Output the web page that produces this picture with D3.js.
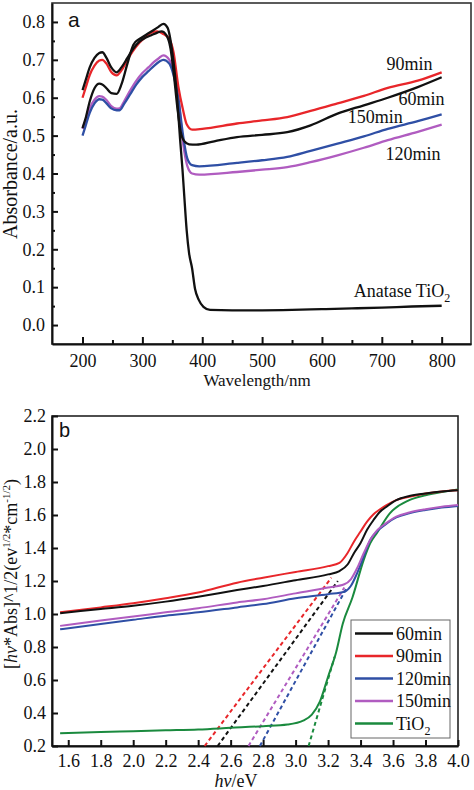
<!DOCTYPE html>
<html>
<head>
<meta charset="utf-8">
<script src="https://cdn.jsdelivr.net/npm/d3@7"></script>
<style>
    body { margin: 0; background: #fff; }
    svg text { font-family: "Liberation Serif", "Times New Roman", serif !important; fill: #111; }
    svg text.sans { font-family: "Liberation Sans", Arial, sans-serif !important; }
    .axis path, .axis line { stroke: #111; }
    .axis text { font-size: 18px; }
</style>
</head>
<body>
<svg id="chart" width="474" height="790"></svg>
<script>
// ---- panel a : absorbance vs wavelength ----
const wlTiO2  = [200,205,212,220,228,233,240,248,257,265,275,285,295,305,315,325,335,342,350,358,363,367,370,374,378,383,388,394,402,413,450,500,550,600,650,700,750,800];
const absTiO2 = [0.52,0.545,0.59,0.625,0.637,0.635,0.625,0.612,0.61,0.635,0.69,0.74,0.755,0.765,0.775,0.785,0.795,0.785,0.72,0.6,0.49,0.41,0.34,0.25,0.19,0.15,0.095,0.067,0.048,0.04,0.039,0.039,0.04,0.042,0.044,0.046,0.049,0.051];

const wl60  = [200,205,212,220,228,233,240,248,257,265,275,285,295,305,315,325,332,340,347,352,358,364,370,378,390,420,458,500,542,581,626,670,710,760,800];
const abs60 = [0.62,0.645,0.68,0.705,0.718,0.72,0.705,0.68,0.667,0.68,0.705,0.73,0.748,0.758,0.765,0.772,0.775,0.765,0.73,0.67,0.58,0.51,0.485,0.477,0.476,0.485,0.496,0.502,0.509,0.527,0.558,0.58,0.6,0.628,0.654];

const wl90  = [200,205,212,220,228,233,240,248,257,265,275,285,295,305,315,325,335,345,352,360,368,374,383,400,458,500,542,581,626,670,710,760,800];
const abs90 = [0.6,0.625,0.66,0.685,0.698,0.7,0.69,0.668,0.659,0.672,0.7,0.725,0.745,0.76,0.772,0.775,0.768,0.755,0.72,0.63,0.567,0.53,0.516,0.518,0.532,0.54,0.549,0.565,0.585,0.605,0.626,0.645,0.667];

const wlBP   = [200,205,212,220,228,233,240,248,257,262,270,280,290,300,310,320,328,335,345,352,360,368,375,383,395,458,500,542,581,626,670,710,760,800];
const absBlue   = [0.5,0.525,0.56,0.585,0.596,0.595,0.585,0.572,0.567,0.567,0.585,0.61,0.635,0.655,0.67,0.685,0.695,0.7,0.69,0.66,0.6,0.5,0.44,0.422,0.419,0.428,0.435,0.444,0.46,0.479,0.498,0.518,0.538,0.556];
const absPurple = [0.518,0.54,0.572,0.595,0.604,0.603,0.594,0.578,0.571,0.572,0.592,0.62,0.645,0.665,0.68,0.695,0.705,0.712,0.7,0.67,0.6,0.48,0.42,0.4,0.397,0.404,0.41,0.417,0.43,0.448,0.468,0.488,0.51,0.529];

const wlTicks  = [200,300,400,500,600,700,800];
const wlMinor  = [250,350,450,550,650,750];
const absTicks = [0,0.1,0.2,0.3,0.4,0.5,0.6,0.7,0.8];
const absMinor = [0.05,0.15,0.25,0.35,0.45,0.55,0.65,0.75];

// ---- panel b : Tauc plot ----
const ev = [1.55,1.8,2.0,2.2,2.4,2.64,2.8,3.0,3.2,3.27,3.32,3.36,3.4,3.44,3.48,3.52,3.56,3.62,3.7,3.8,3.9,4.0];
const tauc60  = [1.005,1.03,1.05,1.075,1.105,1.145,1.17,1.205,1.24,1.26,1.3,1.37,1.43,1.51,1.57,1.62,1.65,1.69,1.715,1.73,1.742,1.75];
const tauc90  = [1.01,1.04,1.065,1.095,1.13,1.19,1.22,1.255,1.29,1.31,1.37,1.44,1.5,1.56,1.605,1.635,1.66,1.69,1.71,1.73,1.743,1.75];
const evBP = [1.55,1.8,2.0,2.2,2.4,2.64,2.8,3.0,3.2,3.3,3.34,3.38,3.42,3.46,3.5,3.55,3.62,3.7,3.8,3.9,4.0];
const tauc120 = [0.907,0.94,0.965,0.99,1.01,1.04,1.06,1.095,1.12,1.135,1.17,1.25,1.35,1.45,1.5,1.54,1.585,1.61,1.63,1.645,1.655];
const tauc150 = [0.928,0.96,0.985,1.01,1.035,1.07,1.09,1.125,1.16,1.18,1.21,1.28,1.37,1.45,1.505,1.545,1.59,1.615,1.635,1.65,1.66];
const evTiO2 = [1.55,1.8,2.0,2.2,2.4,2.6,2.8,2.95,3.05,3.1,3.15,3.2,3.25,3.29,3.35,3.42,3.46,3.5,3.58,3.7,3.8,3.9,4.0];
const taucTiO2 = [0.277,0.285,0.29,0.295,0.3,0.31,0.32,0.33,0.355,0.39,0.47,0.62,0.77,0.94,1.1,1.33,1.43,1.49,1.61,1.69,1.72,1.74,1.755];

// tangent lines (start and end points)
const tan60   = [[2.52,0.2],[3.26,1.2]];
const tan90   = [[2.44,0.2],[3.22,1.22]];
const tan120  = [[2.78,0.2],[3.31,1.15]];
const tan150  = [[2.71,0.2],[3.3,1.16]];
const tanTiO2 = [[3.08,0.2],[3.24,0.74]];

const evTicks   = [1.6,1.8,2.0,2.2,2.4,2.6,2.8,3.0,3.2,3.4,3.6,3.8,4.0];
const taucTicks = [0.2,0.4,0.6,0.8,1.0,1.2,1.4,1.6,1.8,2.0,2.2];

const seriesNames = ['60min','90min','120min','150min','TiO2'];
const colors = {black: '#111', red: '#e8262a', blue: '#2f4fa5', purple: '#b05cc0', green: '#1a8a3e'};

const svg = d3.select('#chart');

// ================= panel a =================
const xA = d3.scaleLinear().domain([149, 849]).range([52, 471]);
const yA = d3.scaleLinear().domain([-0.05, 0.85]).range([344, 3]);
const gA = svg.append('g');

gA.append('rect')
    .attr('x', 52).attr('y', 3)
    .attr('width', 471 - 52).attr('height', 344 - 3)
    .attr('fill', 'none').attr('stroke', '#333').attr('stroke-width', 1.6);

gA.append('g').attr('class', 'axis')
    .attr('transform', 'translate(0,344)')
    .call(d3.axisBottom(xA).tickValues(wlTicks).tickSize(-7).tickSizeOuter(0).tickPadding(10))
    .call(g => g.selectAll('path,line').attr('stroke-width', 2));
gA.append('g').attr('class', 'axis')
    .attr('transform', 'translate(0,344)')
    .call(d3.axisBottom(xA).tickValues(wlMinor).tickSize(-4).tickFormat(''))
    .call(g => g.select('.domain').remove())
    .call(g => g.selectAll('line').attr('stroke-width', 2));

gA.append('g').attr('class', 'axis')
    .attr('transform', 'translate(52,0)')
    .call(d3.axisLeft(yA).tickValues(absTicks).tickSize(-6).tickSizeOuter(0).tickPadding(7).tickFormat(d3.format('.1f')))
    .call(g => g.selectAll('path,line').attr('stroke-width', 2));
gA.append('g').attr('class', 'axis')
    .attr('transform', 'translate(52,0)')
    .call(d3.axisLeft(yA).tickValues(absMinor).tickSize(-3).tickFormat(''))
    .call(g => g.select('.domain').remove())
    .call(g => g.selectAll('line').attr('stroke-width', 2));

const lineA = d3.line()
    .x(d => xA(d[0]))
    .y(d => yA(d[1]))
    .curve(d3.curveMonotoneX);

[
    [wlBP, absPurple, colors.purple],
    [wlBP, absBlue, colors.blue],
    [wl90, abs90, colors.red],
    [wlTiO2, absTiO2, colors.black],
    [wl60, abs60, colors.black]
].forEach(s => {
    gA.append('path')
        .datum(d3.zip(s[0], s[1]))
        .attr('d', lineA)
        .attr('fill', 'none')
        .attr('stroke', s[2])
        .attr('stroke-width', 2.3)
        .attr('stroke-linejoin', 'round');
});

gA.append('text').attr('class', 'sans').attr('x', 68).attr('y', 27)
    .style('font-size', '21px').text('a');

const noteA = [['90min', 708, 0.672], ['60min', 728, 0.582], ['150min', 643, 0.532], ['120min', 706, 0.435]];
noteA.forEach(n => {
    gA.append('text').attr('x', xA(n[1])).attr('y', yA(n[2]))
        .style('font-size', '18px').text(n[0]);
});
const anat = gA.append('text').attr('x', xA(653)).attr('y', yA(0.075)).style('font-size', '18px');
anat.append('tspan').text('Anatase TiO');
anat.append('tspan').attr('dy', 5).style('font-size', '12px').text('2');

gA.append('text')
    .attr('x', 257).attr('y', 386)
    .attr('text-anchor', 'middle')
    .style('font-size', '17px')
    .text('Wavelength/nm');

gA.append('text')
    .attr('transform', 'translate(17,174) rotate(-90)')
    .attr('text-anchor', 'middle')
    .style('font-size', '20px')
    .text('Absorbance/a.u.');

// ================= panel b =================
const xB = d3.scaleLinear().domain([1.5, 4.0]).range([52, 458]);
const yB = d3.scaleLinear().domain([0.2, 2.2]).range([746, 416]);
const gB = svg.append('g');

gB.append('rect')
    .attr('x', 52).attr('y', 416)
    .attr('width', 458 - 52).attr('height', 746 - 416)
    .attr('fill', 'none').attr('stroke', '#222').attr('stroke-width', 1.6);

gB.append('g').attr('class', 'axis')
    .attr('transform', 'translate(0,746)')
    .call(d3.axisBottom(xB).tickValues(evTicks).tickSize(-6).tickSizeOuter(0).tickPadding(8).tickFormat(d3.format('.1f')))
    .call(g => g.selectAll('path,line').attr('stroke-width', 2));

gB.append('g').attr('class', 'axis')
    .attr('transform', 'translate(52,0)')
    .call(d3.axisLeft(yB).tickValues(taucTicks).tickSize(-6).tickSizeOuter(0).tickPadding(6).tickFormat(d3.format('.1f')))
    .call(g => g.selectAll('path,line').attr('stroke-width', 2));

const lineB = d3.line()
    .x(d => xB(d[0]))
    .y(d => yB(d[1]))
    .curve(d3.curveMonotoneX);

// dashed tangents
[
    [tan90, colors.red], [tan60, colors.black], [tan150, colors.purple],
    [tan120, colors.blue], [tanTiO2, colors.green]
].forEach(t => {
    gB.append('path')
        .datum(t[0])
        .attr('d', d3.line().x(d => xB(d[0])).y(d => yB(d[1])))
        .attr('fill', 'none')
        .attr('stroke', t[1])
        .attr('stroke-width', 2)
        .attr('stroke-dasharray', '4,3');
});

[
    [evTiO2, taucTiO2, colors.green],
    [evBP, tauc120, colors.blue],
    [evBP, tauc150, colors.purple],
    [ev, tauc90, colors.red],
    [ev, tauc60, colors.black]
].forEach(s => {
    gB.append('path')
        .datum(d3.zip(s[0], s[1]))
        .attr('d', lineB)
        .attr('fill', 'none')
        .attr('stroke', s[2])
        .attr('stroke-width', 2)
        .attr('stroke-linejoin', 'round');
});

gB.append('text').attr('class', 'sans').attr('x', 59).attr('y', 437)
    .style('font-size', '20px').text('b');

// legend
const legendColors = [colors.black, colors.red, colors.blue, colors.purple, colors.green];
const legend = gB.append('g').attr('transform', 'translate(351,620)');
legend.append('rect')
    .attr('width', 99).attr('height', 118)
    .attr('fill', '#fff').attr('stroke', '#666').attr('stroke-width', 1);
seriesNames.forEach((name, i) => {
    const yy = 13.5 + i * 22.5;
    legend.append('line')
        .attr('x1', 4).attr('x2', 42).attr('y1', yy).attr('y2', yy)
        .attr('stroke', legendColors[i]).attr('stroke-width', 2.5);
    const t = legend.append('text').attr('x', 45).attr('y', yy + 6).style('font-size', '18px');
    if (name === 'TiO2') {
        t.append('tspan').text('TiO');
        t.append('tspan').attr('dy', 5).style('font-size', '12px').text('2');
    } else {
        t.text(name);
    }
});

// axis titles
const xt = gB.append('text')
    .attr('x', 236).attr('y', 787)
    .attr('text-anchor', 'middle')
    .style('font-size', '18px');
xt.append('tspan').style('font-style', 'italic').text('hν');
xt.append('tspan').text('/eV');

const yt = gB.append('text')
    .attr('transform', 'translate(17,574) rotate(-90)')
    .attr('text-anchor', 'middle')
    .style('font-size', '18px');
yt.append('tspan').text('[');
yt.append('tspan').style('font-style', 'italic').text('hν');
yt.append('tspan').text('*Abs]^1/2(ev');
yt.append('tspan').attr('dy', -7).style('font-size', '11px').text('1/2');
yt.append('tspan').attr('dy', 7).text('*cm');
yt.append('tspan').attr('dy', -7).style('font-size', '11px').text('-1/2');
yt.append('tspan').attr('dy', 7).text(')');
</script>
</body>
</html>
